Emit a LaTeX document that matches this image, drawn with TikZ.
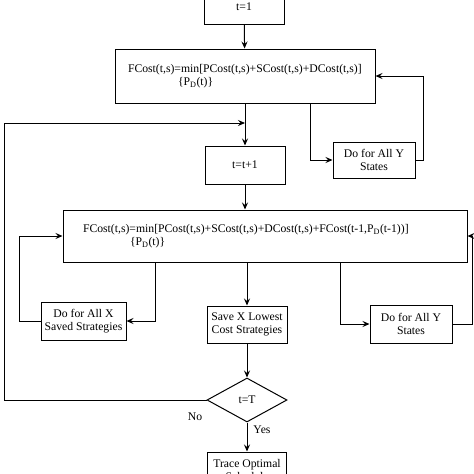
\documentclass[tikz,border=0pt]{standalone}
\usepackage{fontspec}
\setmainfont{Liberation Serif}
\usetikzlibrary{
    arrows.meta,
    shapes.geometric,
    positioning
}

\begin{document}
\begin{tikzpicture}[x=1pt, y=-1pt,
        font=\fontsize{11.7}{13}\selectfont,
        box/.style={draw=black, line width=1pt, rectangle, align=center, inner sep=2pt},
        arr/.style={line width=1pt, -{Stealth[length=7pt, width=6pt, inset=2.5pt]}}]
    \useasboundingbox (0,0) rectangle (474,474);
    \node[box, minimum width=80pt, minimum height=34pt] (t1) at (244, 7) {t=1};
    \node[box, minimum width=260pt, minimum height=54pt, text width=234pt, inner xsep=13pt, align=left] (fc1) at (245, 76)
        {FCost(t,s)=min[PCost(t,s)+SCost(t,s)+DCost(t,s)]\\\hspace*{50pt}\{P\textsubscript{D}(t)\}};
    \node[box, minimum width=82pt, minimum height=36pt] (ys1) at (374, 160) {Do for All Y\\States};
    \node[box, minimum width=80pt, minimum height=38pt] (tt) at (245, 165) {t=t+1};
    \node[box, minimum width=404pt, minimum height=52pt, text width=364pt, inner xsep=20pt, align=left] (fc2) at (265, 236)
        {FCost(t,s)=min[PCost(t,s)+SCost(t,s)+DCost(t,s)+FCost(t-1,P\textsubscript{D}(t-1))]\\\hspace*{47pt}\{P\textsubscript{D}(t)\}};
    \node[box, minimum width=85pt, minimum height=38pt] (xs) at (83.5, 321) {Do for All X\\Saved Strategies};
    \node[box, minimum width=80pt, minimum height=37pt] (sv) at (247, 324.5) {Save X Lowest\\Cost Strategies};
    \node[box, minimum width=82pt, minimum height=38pt] (ys2) at (411, 324) {Do for All Y\\States};
    \node[draw=black, line width=1pt, diamond, inner sep=0pt, minimum width=80pt, minimum height=44pt] (dm) at (247, 400) {t=T};
    \node[box, minimum width=79pt, minimum height=36pt] (tr) at (247, 470) {Trace Optimal\\Schedule};
    \node (no) at (195, 417) {No};
    \node (yes) at (262, 430) {Yes};
    \coordinate (join) at (245, 123);

    \draw
    (t1) edge[arr] (fc1)
    (fc1.south) edge[arr] (tt.north)
    (310,0 |- fc1.south) edge[arr, to path={|- (\tikztotarget)}] (ys1.west)
    (tt.south) edge[arr] (tt.south |- fc2.north)
    (155,0 |- fc2.south) edge[arr, to path={|- (\tikztotarget)}] (xs.east)
    (sv.north |- fc2.south) edge[arr] (sv.north)
    (340,0 |- fc2.south) edge[arr, to path={|- (\tikztotarget)}] (ys2.west)
    (sv.south) edge[arr] (dm.north)
    (dm.south) edge[arr] (tr.north);
    \draw[arr] (ys1.east) -- ++(8,0) |- (fc1.east);
    \draw[arr] (xs.west) -- ++(-21,0) |- (fc2.west);
    \draw[arr] (ys2.east) -- ++(20,0) |- (fc2.east);
    \draw[arr] (dm.west) -- (4,0 |- dm.west) |- (join);
\end{tikzpicture}
\end{document}
